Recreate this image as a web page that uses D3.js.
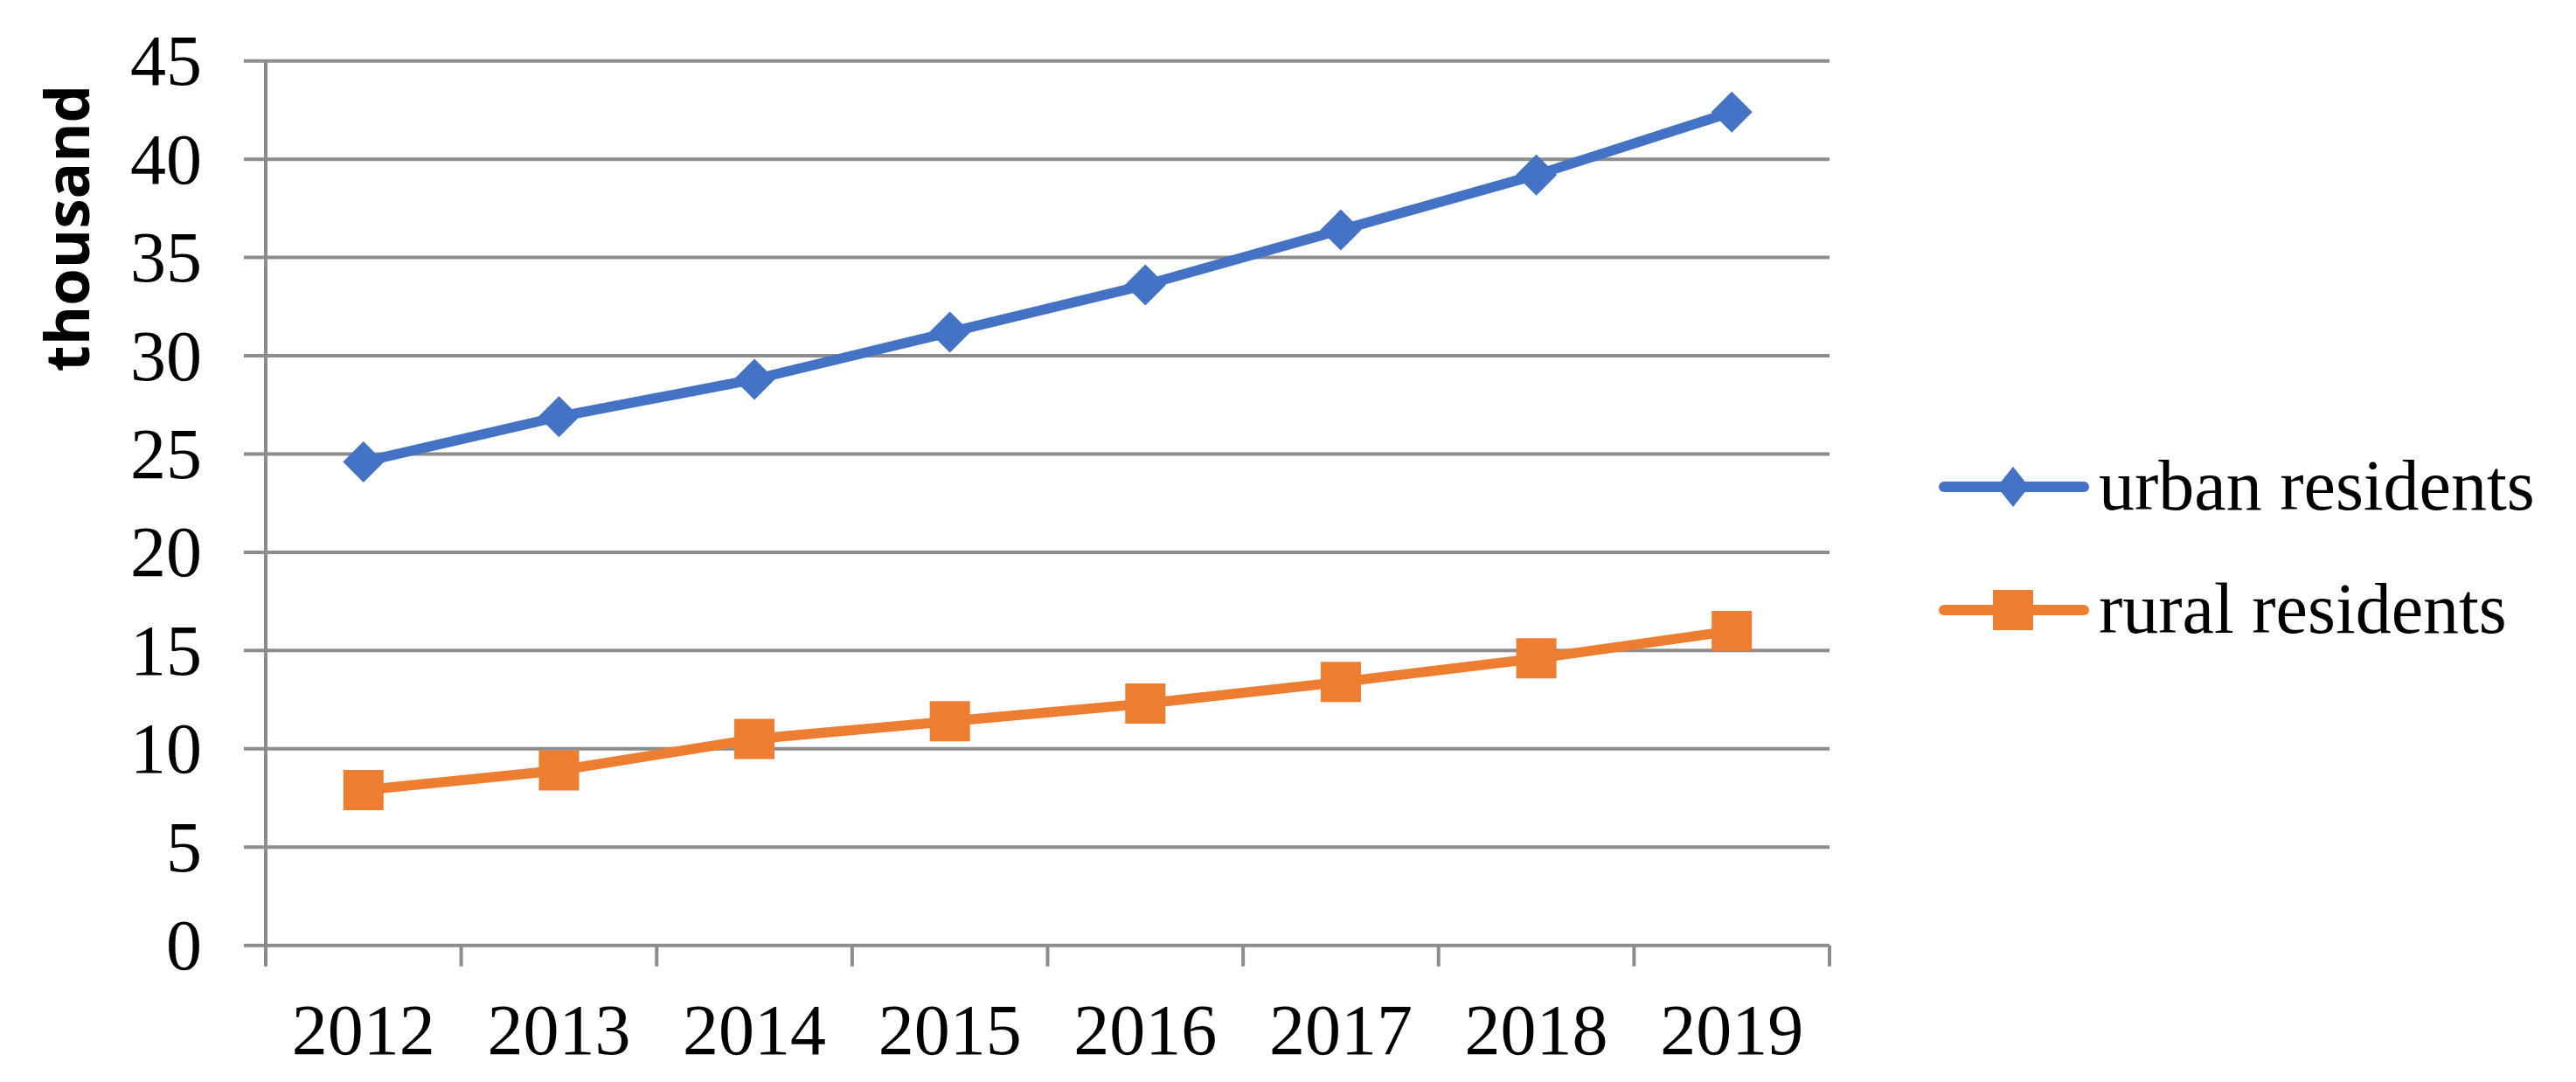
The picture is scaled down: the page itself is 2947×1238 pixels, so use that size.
<!DOCTYPE html>
<html>
<head>
<meta charset="utf-8">
<script src="https://cdn.jsdelivr.net/npm/d3@7"></script>
<style>
  html, body { margin: 0; padding: 0; background: #ffffff; }
  svg { display: block; }
</style>
</head>
<body>
<svg id="chart" width="2947" height="1238"></svg>
<script>
// ---- data ----
const years = ["2012", "2013", "2014", "2015", "2016", "2017", "2018", "2019"];
const urbanResidents = [24.6, 26.9, 28.8, 31.2, 33.6, 36.4, 39.2, 42.4];
const ruralResidents = [7.9, 8.9, 10.5, 11.4, 12.3, 13.4, 14.6, 16.0];
const yTickValues = [0, 5, 10, 15, 20, 25, 30, 35, 40, 45];
const seriesNames = ["urban residents", "rural residents"];
const yAxisTitle = "thousand";

// ---- layout ----
const W = 2947, H = 1238;
const plot = { left: 304, right: 2093, top: 69.7, bottom: 1081.7 };
const gridColor = "#8c8c8c";
const colors = ["#4472C4", "#ED7D31"];
const serif = "'Liberation Serif', 'Times New Roman', Times, serif";

const svg = d3.select("#chart");
svg.append("rect").attr("width", W).attr("height", H).attr("fill", "#fff");

const x = d3.scaleBand().domain(years).range([plot.left, plot.right]).padding(0);
const y = d3.scaleLinear().domain([0, 45]).range([plot.bottom, plot.top]);
const bw = x.bandwidth();

// gridlines (extend a bit left of the axis as outward ticks)
svg.append("g").selectAll("line").data(yTickValues).join("line")
  .attr("x1", plot.left - 25).attr("x2", plot.right)
  .attr("y1", d => y(d)).attr("y2", d => y(d))
  .attr("stroke", gridColor).attr("stroke-width", 4);

// vertical axis line
svg.append("line")
  .attr("x1", plot.left).attr("x2", plot.left)
  .attr("y1", y(45)).attr("y2", plot.bottom + 24)
  .attr("stroke", gridColor).attr("stroke-width", 4);

// category boundary tick marks
const boundaries = years.map(d => x(d)).concat([plot.right]);
svg.append("g").selectAll("line").data(boundaries).join("line")
  .attr("x1", d => d).attr("x2", d => d)
  .attr("y1", plot.bottom).attr("y2", plot.bottom + 24)
  .attr("stroke", gridColor).attr("stroke-width", 4);

// y axis labels
const yAxis = svg.append("g")
  .attr("transform", `translate(${plot.left},0)`)
  .call(d3.axisLeft(y).tickValues(yTickValues).tickSize(0).tickPadding(73).tickFormat(d3.format("d")));
yAxis.select(".domain").remove();
yAxis.selectAll("text")
  .attr("dy", "27px")
  .attr("fill", "#000")
  .style("font-family", serif)
  .style("font-size", "82px");

// x axis labels
const xAxis = svg.append("g")
  .attr("transform", `translate(0,${plot.bottom})`)
  .call(d3.axisBottom(x).tickSize(0));
xAxis.select(".domain").remove();
xAxis.selectAll("text")
  .attr("y", 124).attr("dy", 0)
  .attr("fill", "#000")
  .style("font-family", serif)
  .style("font-size", "82px");

// y axis title
svg.append("text")
  .attr("transform", "translate(102,261) rotate(-90)")
  .attr("text-anchor", "middle")
  .style("font-family", "'Open Sans', 'Liberation Sans', Arial, sans-serif")
  .style("font-weight", "bold")
  .style("font-size", "69px")
  .attr("fill", "#000")
  .text(yAxisTitle);

// series
const series = [urbanResidents, ruralResidents];
const line = d3.line().x((d, i) => x(years[i]) + bw / 2).y(d => y(d));

const diamondPath = "M0,-23.5L23.5,0L0,23.5L-23.5,0Z";
const squarePath = "M-23,-23H23V23H-23Z";
const markerPaths = [diamondPath, squarePath];

series.forEach((vals, si) => {
  svg.append("path").datum(vals)
    .attr("d", line)
    .attr("fill", "none")
    .attr("stroke", colors[si])
    .attr("stroke-width", 11.5)
    .attr("stroke-linejoin", "round");
  svg.append("g").selectAll("path").data(vals).join("path")
    .attr("d", markerPaths[si])
    .attr("transform", (d, i) => `translate(${x(years[i]) + bw / 2},${y(d)})`)
    .attr("fill", colors[si]);
});

// legend
const legendY = [557, 698];
const legendG = svg.append("g");
seriesNames.forEach((name, si) => {
  const g = legendG.append("g").attr("transform", `translate(0,${legendY[si]})`);
  g.append("line")
    .attr("x1", 2224).attr("x2", 2384).attr("y1", 0).attr("y2", 0)
    .attr("stroke", colors[si]).attr("stroke-width", 12).attr("stroke-linecap", "round");
  g.append("path")
    .attr("d", markerPaths[si])
    .attr("transform", si === 0 ? "translate(2303,0) scale(0.78,0.98)" : "translate(2303,0)")
    .attr("fill", colors[si]);
  g.append("text")
    .attr("x", 2401).attr("y", 26)
    .style("font-family", serif)
    .style("font-size", "82px")
    .attr("fill", "#000")
    .text(name);
});
</script>
</body>
</html>
